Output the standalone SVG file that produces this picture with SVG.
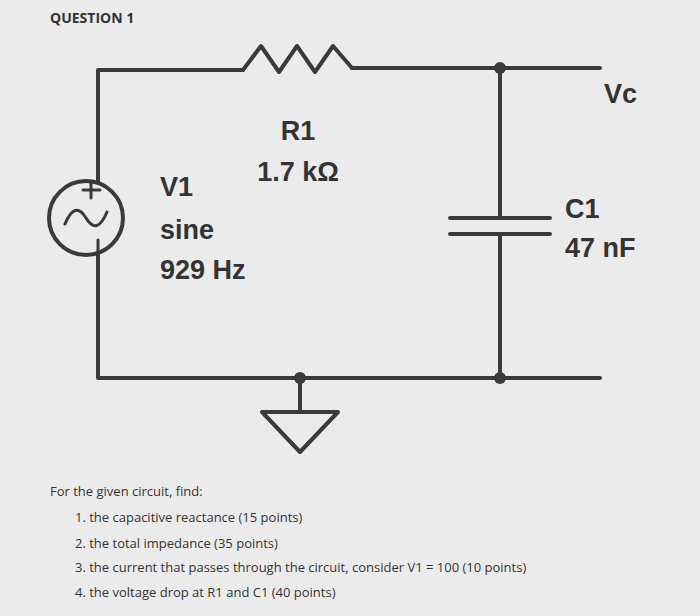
<svg xmlns="http://www.w3.org/2000/svg" width="700" height="616" viewBox="0 0 700 616">
<style>
.w{stroke:#3a3a3a;stroke-width:4;fill:none;stroke-linecap:round;stroke-linejoin:round}
.l{font-family:"Liberation Sans",Arial,sans-serif;font-weight:bold;font-size:27px;fill:#333}
.t{font-family:"Open Sans","Liberation Sans",sans-serif;font-size:13px;fill:#333}
</style>
<rect width="700" height="616" fill="#ebebeb"/>
<text x="50" y="23" class="t" style="font-weight:bold;font-size:14px">QUESTION 1</text>
<g id="connectors">
<path class="w" d="M98 70 V182 M98 255 V378 M98 378 H600 M98 70 H243 M352 68 H600 M500 68 V218 M500 234 V378 M300 378 V410"/>
</g>
<g id="R1"><path class="w" d="M243 70 L261 46 L279 72 L297 46 L315 72 L333 46 L352 68"/>
<text x="298" y="140" class="l" text-anchor="middle">R1</text>
<text x="298" y="181" class="l" text-anchor="middle">1.7 kΩ</text></g>
<g id="V1"><circle cx="86" cy="218" r="37" class="w"/>
<path class="w" style="stroke-width:3" d="M65 224 Q75 200 86 218 Q97 236 107 212 M91 181 V198 M83 190 H100 M98 240 V255"/>
<text x="160" y="196" class="l">V1</text>
<text x="160" y="239" class="l">sine</text>
<text x="160" y="279" class="l">929 Hz</text></g>
<g id="C1"><path class="w" d="M450 218 H550 M450 234 H550"/>
<text x="565" y="218" class="l">C1</text>
<text x="565" y="257" class="l">47 nF</text></g>
<g id="Vc"><circle cx="500" cy="68" r="6" fill="#3a3a3a"/><text x="604" y="103" class="l">Vc</text></g>
<g id="nodes"><circle cx="300" cy="378" r="6" fill="#3a3a3a"/><circle cx="500" cy="378" r="6" fill="#3a3a3a"/></g>
<g id="GND"><path class="w" d="M262 412 H338 L300 452 Z"/></g>
<g id="question">
<text x="50" y="496" class="t">For the given circuit, find:</text>
<text x="75" y="522" class="t">1.  the capacitive reactance (15 points)</text>
<text x="75" y="548" class="t">2.  the total impedance (35 points)</text>
<text x="75" y="572" class="t">3.  the current that passes through the circuit, consider V1 = 100 (10 points)</text>
<text x="75" y="597" class="t">4.  the voltage drop at R1 and C1 (40 points)</text>
</g>
</svg>
